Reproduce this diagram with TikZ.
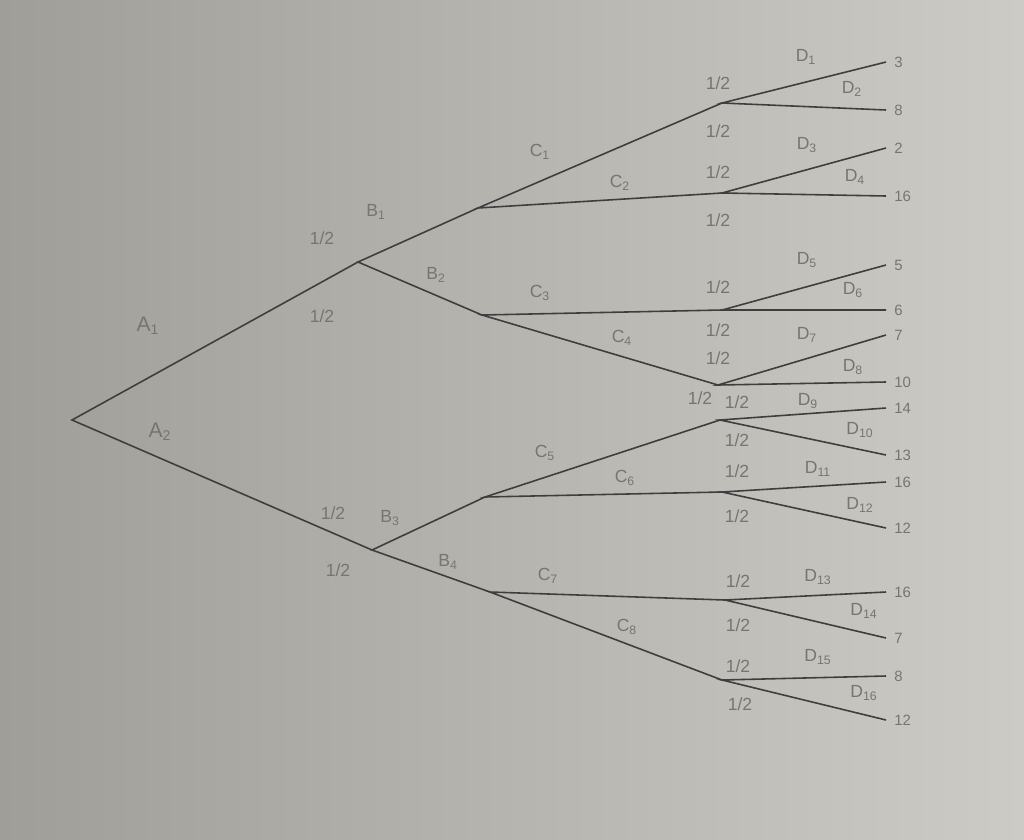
\documentclass[tikz,border=0pt]{standalone}
\usepackage{fontspec}
\setmainfont{Liberation Sans}
\usetikzlibrary{backgrounds}
\definecolor{paperdark}{RGB}{160,158,152}
\definecolor{paperlight}{RGB}{204,203,198}
\definecolor{ink}{RGB}{62,62,62}
\definecolor{lbl}{RGB}{118,117,114}

\begin{document}
\begin{tikzpicture}[x=0.02cm, y=-0.02cm]
                
                    \shade[left color=paperdark, right color=paperlight] (0,0) rectangle (1024,839);
                    \tikzset{edge/.style={ink, line width=0.9pt}, lab/.style={text=lbl, font=\fontsize{10}{12}\selectfont, inner sep=1pt}, big/.style={text=lbl, font=\fontsize{12}{14}\selectfont, inner sep=1pt}, val/.style={text=lbl, font=\fontsize{8.5}{10}\selectfont, inner ysep=1pt, inner xsep=4.5pt, anchor=west}}
                
                    \coordinate (r) at (72,420);
                    \coordinate (b1) at (358,262); \coordinate (b2) at (372,550);
                    \coordinate (c1) at (478,208); \coordinate (c2) at (482,315); \coordinate (c3) at (485,497); \coordinate (c4) at (490,592);
                    \coordinate (d1) at (722,103); \coordinate (d2) at (722,193); \coordinate (d3) at (722,310); \coordinate (d4) at (718,385);
                    \coordinate (d5) at (720,420); \coordinate (d6) at (722,492); \coordinate (d7) at (725,600); \coordinate (d8) at (722,680);
                    
                    % end values
                    \node[val] (e1) at (886,62) {3}; \node[val] (e2) at (886,110) {8}; \node[val] (e3) at (886,148) {2}; \node[val] (e4) at (886,196) {16};
                    \node[val] (e5) at (886,265) {5}; \node[val] (e6) at (886,310) {6}; \node[val] (e7) at (886,335) {7}; \node[val] (e8) at (886,382) {10};
                    \node[val] (e9) at (886,408) {14}; \node[val] (e10) at (886,455) {13}; \node[val] (e11) at (886,482) {16}; \node[val] (e12) at (886,528) {12};
                    \node[val] (e13) at (886,592) {16}; \node[val] (e14) at (886,638) {7}; \node[val] (e15) at (886,676) {8}; \node[val] (e16) at (886,720) {12};
                    
                    \draw[edge] (b1) -- (r) -- (b2);
                    \draw[edge] (c1) -- (b1) -- (c2); \draw[edge] (c3) -- (b2) -- (c4);
                    \draw[edge] (d1) -- (c1) -- (d2); \draw[edge] (d3) -- (c2) -- (d4);
                    \draw[edge] (d5) -- (c3) -- (d6); \draw[edge] (d7) -- (c4) -- (d8);
                    \draw[edge] (e1.west) -- (d1) -- (e2.west); \draw[edge] (e3.west) -- (d2) -- (e4.west);
                    \draw[edge] (e5.west) -- (d3) -- (e6.west); \draw[edge] (e7.west) -- (d4) -- (e8.west);
                    \draw[edge] (e9.west) -- (d5) -- (e10.west); \draw[edge] (e11.west) -- (d6) -- (e12.west);
                    \draw[edge] (e13.west) -- (d7) -- (e14.west); \draw[edge] (e15.west) -- (d8) -- (e16.west);
                    
                    % branch names
                    \node[big] (la1) at (148,326) {A\textsubscript{1}}; \node[big] (la2) at (160,432) {A\textsubscript{2}};
                    \node[lab] (lb1) at (376,212) {B\textsubscript{1}}; \node[lab] (lb2) at (436,275) {B\textsubscript{2}};
                    \node[lab] (lb3) at (390,518) {B\textsubscript{3}}; \node[lab] (lb4) at (448,562) {B\textsubscript{4}};
                    \node[lab] (lc1) at (540,152) {C\textsubscript{1}}; \node[lab] (lc2) at (620,183) {C\textsubscript{2}};
                    \node[lab] (lc3) at (540,293) {C\textsubscript{3}}; \node[lab] (lc4) at (622,338) {C\textsubscript{4}};
                    \node[lab] (lc5) at (545,453) {C\textsubscript{5}}; \node[lab] (lc6) at (625,478) {C\textsubscript{6}};
                    \node[lab] (lc7) at (548,576) {C\textsubscript{7}}; \node[lab] (lc8) at (627,627) {C\textsubscript{8}};
                    \node[lab] (ld1) at (806,57) {D\textsubscript{1}}; \node[lab] (ld2) at (852,89) {D\textsubscript{2}};
                    \node[lab] (ld3) at (807,145) {D\textsubscript{3}}; \node[lab] (ld4) at (855,177) {D\textsubscript{4}};
                    \node[lab] (ld5) at (807,260) {D\textsubscript{5}}; \node[lab] (ld6) at (853,290) {D\textsubscript{6}};
                    \node[lab] (ld7) at (807,335) {D\textsubscript{7}}; \node[lab] (ld8) at (853,367) {D\textsubscript{8}};
                    \node[lab] (ld9) at (808,401) {D\textsubscript{9}}; \node[lab] (ld10) at (860,430) {D\textsubscript{10}};
                    \node[lab] (ld11) at (818,469) {D\textsubscript{11}}; \node[lab] (ld12) at (860,505) {D\textsubscript{12}};
                    \node[lab] (ld13) at (818,577) {D\textsubscript{13}}; \node[lab] (ld14) at (864,611) {D\textsubscript{14}};
                    \node[lab] (ld15) at (818,657) {D\textsubscript{15}}; \node[lab] (ld16) at (864,693) {D\textsubscript{16}};
                    
                    % probabilities
                    \node[lab] (p1) at (322,238) {1/2}; \node[lab] (p2) at (322,316) {1/2}; \node[lab] (p3) at (333,513) {1/2}; \node[lab] (p4) at (338,570) {1/2};
                    \node[lab] (q1) at (718,83) {1/2}; \node[lab] (q2) at (718,131) {1/2}; \node[lab] (q3) at (718,172) {1/2}; \node[lab] (q4) at (718,220) {1/2};
                    \node[lab] (q5) at (718,287) {1/2}; \node[lab] (q6) at (718,330) {1/2}; \node[lab] (q7) at (718,358) {1/2}; \node[lab] (q8) at (700,398) {1/2};
                    \node[lab] (q9) at (737,402) {1/2}; \node[lab] (q10) at (737,440) {1/2}; \node[lab] (q11) at (737,471) {1/2}; \node[lab] (q12) at (737,516) {1/2};
                    \node[lab] (q13) at (738,581) {1/2}; \node[lab] (q14) at (738,625) {1/2}; \node[lab] (q15) at (738,666) {1/2}; \node[lab] (q16) at (740,704) {1/2};
                    
                \end{tikzpicture}
\end{document}
